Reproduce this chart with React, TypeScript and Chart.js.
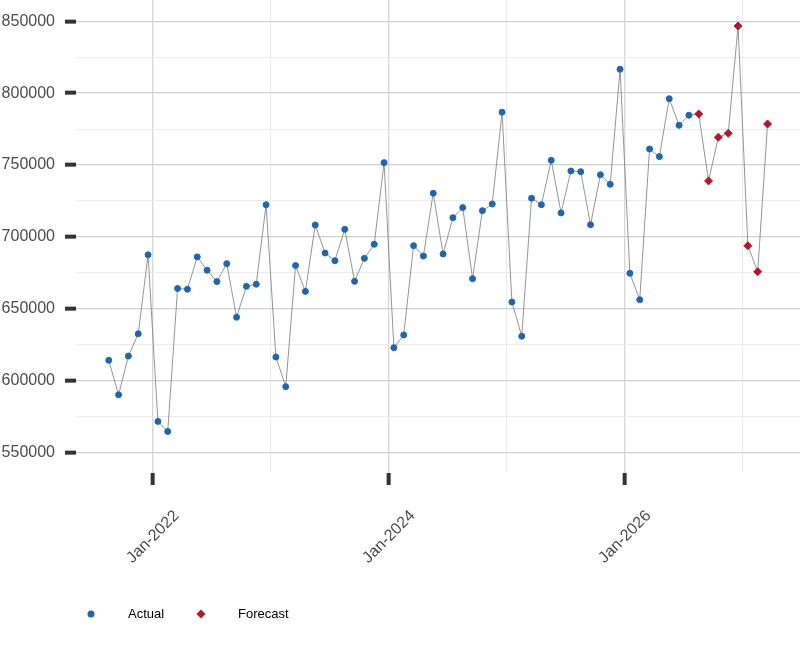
import { useEffect, useRef } from 'react'
import { Chart, registerables } from 'chart.js'

Chart.register(...registerables)

// months counted from Jan-2022; each point sits in the middle of its month
const firstMonth = -5 // Aug-2021

const actualValues = [
  614000, 590000, 617000, 632500, 687500, 571500, 564500, 664000, 663500, 686000,
  676700, 668800, 681300, 644000, 665500, 667000, 722300, 616300, 595700, 680000,
  662000, 708200, 688700, 683400, 705200, 669000, 685000, 694800, 751600, 622800,
  631700, 693800, 686600, 730300, 688000, 713300, 720300, 670800, 718200, 722800,
  786700, 654600, 630800, 726800, 722300, 753200, 716600, 745800, 745300, 708400,
  743200, 736500, 816600, 674600, 656200, 761100, 755800, 796100, 777600, 784600
]
const forecastValues = [785500, 738900, 769300, 772000, 846700, 693800, 675700, 778500]

const yTickValues = [550000, 600000, 650000, 700000, 750000, 800000, 850000]
const yMinorValues = [575000, 625000, 675000, 725000, 775000, 825000]
const xTickMonths = [0, 24, 48]
const xTickLabels = ['Jan-2022', 'Jan-2024', 'Jan-2026']
const xMinorMonths = [12, 36, 60]

const seriesNames = ['Actual', 'Forecast']
const blue = '#2166ac'
const red = '#b2182b'

const fontFamily = "'Liberation Sans', Arial, sans-serif"

const actualPoints = actualValues.map((v, i) => ({ x: firstMonth + i + 0.5, y: v }))
const forecastPoints = forecastValues.map((v, i) => ({
  x: firstMonth + actualValues.length + i + 0.5,
  y: v
}))

const xLabelPlugin = {
  id: 'xLabels',
  afterDraw(chart: any) {
    const { ctx, chartArea } = chart
    const xs = chart.scales.x
    ctx.save()
    ctx.font = `16px ${fontFamily}`
    ctx.fillStyle = '#4d4d4d'
    ctx.textAlign = 'center'
    ctx.textBaseline = 'middle'
    xTickMonths.forEach((m, i) => {
      ctx.save()
      ctx.translate(xs.getPixelForValue(m), chartArea.bottom + 64)
      ctx.rotate(-Math.PI / 4)
      ctx.fillText(xTickLabels[i], 0, 0)
      ctx.restore()
    })
    ctx.restore()
  }
}

const legendPlugin = {
  id: 'bottomLegend',
  afterDraw(chart: any) {
    const { ctx } = chart
    const y = chart.height - 36
    const colors = [blue, red]
    ctx.save()
    ctx.font = `13px ${fontFamily}`
    ctx.textBaseline = 'middle'
    ctx.textAlign = 'left'
    seriesNames.forEach((name, i) => {
      const mx = 91 + i * 110
      ctx.fillStyle = colors[i]
      ctx.beginPath()
      if (i === 0) {
        ctx.arc(mx, y, 3.5, 0, Math.PI * 2)
      } else {
        ctx.moveTo(mx, y - 4.5)
        ctx.lineTo(mx + 4.5, y)
        ctx.lineTo(mx, y + 4.5)
        ctx.lineTo(mx - 4.5, y)
        ctx.closePath()
      }
      ctx.fill()
      ctx.fillStyle = '#000'
      ctx.fillText(name, mx + 37, y)
    })
    ctx.restore()
  }
}

export default function App() {
  const canvasRef = useRef<HTMLCanvasElement>(null)

  useEffect(() => {
    if (!canvasRef.current) return
    const isMajorY = (v: number) => yTickValues.includes(v)
    const isMajorX = (v: number) => xTickMonths.includes(v)

    const chart = new Chart(canvasRef.current, {
      type: 'line',
      data: {
        datasets: [
          {
            label: seriesNames[0],
            data: actualPoints,
            showLine: false,
            pointStyle: 'circle',
            pointRadius: 3,
            pointBackgroundColor: blue,
            pointBorderColor: blue,
            pointBorderWidth: 1,
            order: 0
          },
          {
            label: seriesNames[1],
            data: forecastPoints,
            showLine: false,
            pointStyle: 'rectRot',
            pointRadius: 4,
            pointBackgroundColor: red,
            pointBorderColor: red,
            pointBorderWidth: 1,
            order: 0
          },
          {
            label: 'line',
            data: [...actualPoints, ...forecastPoints],
            borderColor: '#7a7a7a',
            borderWidth: 0.8,
            pointRadius: 0,
            tension: 0,
            fill: false,
            order: 1
          }
        ]
      },
      options: {
        animation: false,
        responsive: true,
        maintainAspectRatio: false,
        events: [],
        layout: { padding: 0, autoPadding: false },
        font: { family: fontFamily },
        plugins: {
          legend: { display: false },
          tooltip: { enabled: false }
        },
        scales: {
          x: {
            type: 'linear',
            min: -7.83,
            max: 65.8,
            afterBuildTicks: (scale: any) => {
              scale.ticks = [...xTickMonths, ...xMinorMonths]
                .sort((a, b) => a - b)
                .map((v) => ({ value: v }))
            },
            afterFit: (scale: any) => {
              scale.height = 177
              scale.paddingLeft = 0
              scale.paddingRight = 0
            },
            ticks: { display: false },
            border: { display: false },
            grid: {
              color: (c: any) => (isMajorX(c.tick?.value) ? '#d6d6d6' : '#ebebeb'),
              lineWidth: (c: any) => (isMajorX(c.tick?.value) ? 1.3 : 1),
              drawTicks: true,
              tickLength: 12,
              tickWidth: 4,
              tickColor: (c: any) => (isMajorX(c.tick?.value) ? '#333333' : 'rgba(0,0,0,0)')
            }
          },
          y: {
            type: 'linear',
            min: 535600,
            max: 864800,
            afterBuildTicks: (scale: any) => {
              scale.ticks = [...yTickValues, ...yMinorValues]
                .sort((a, b) => a - b)
                .map((v) => ({ value: v }))
            },
            afterFit: (scale: any) => {
              scale.width = 76
              scale.paddingTop = 0
              scale.paddingBottom = 0
            },
            ticks: {
              autoSkip: false,
              padding: 10,
              color: '#4d4d4d',
              font: { size: 16, family: fontFamily },
              callback: (value: any) => (isMajorY(Number(value)) ? String(value) : '')
            },
            border: { display: false },
            grid: {
              color: (c: any) => (isMajorY(c.tick?.value) ? '#d0d0d0' : '#ebebeb'),
              lineWidth: (c: any) => (isMajorY(c.tick?.value) ? 1.3 : 1),
              drawTicks: true,
              tickLength: 11,
              tickWidth: 4,
              tickColor: (c: any) => (isMajorY(c.tick?.value) ? '#333333' : 'rgba(0,0,0,0)')
            }
          }
        }
      },
      plugins: [xLabelPlugin, legendPlugin]
    })

    return () => {
      chart.destroy()
    }
  }, [])

  return (
    <div style={{ position: 'absolute', left: 0, top: 0, width: 800, height: 650 }}>
      <canvas ref={canvasRef}></canvas>
    </div>
  )
}
